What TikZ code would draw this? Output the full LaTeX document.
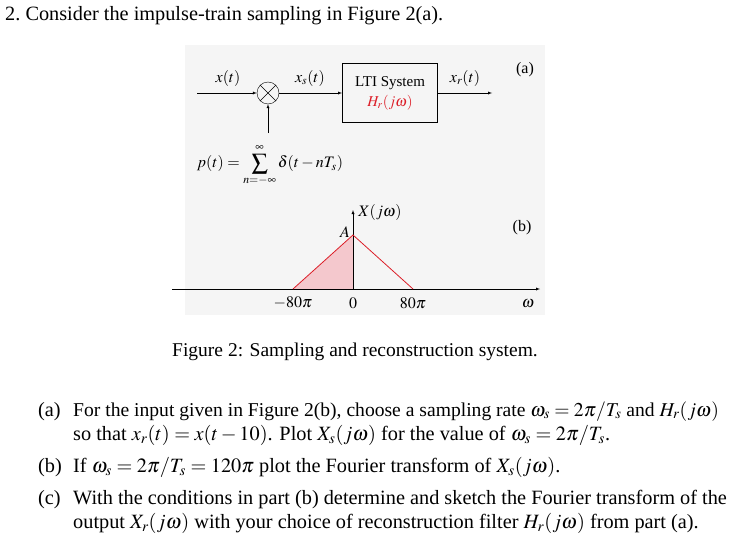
\documentclass[tikz,border=0pt]{standalone}
\usepackage{amsmath}
\usepackage{mathptmx}
\usepackage{fontspec}
\setmainfont{Liberation Serif}
\usetikzlibrary{positioning}
\definecolor{sigred}{RGB}{220,30,40}
\definecolor{pinkfill}{RGB}{244,200,205}
\tikzset{
  txt/.style={anchor=base west,inner sep=0pt,font=\fontsize{20.3}{23}\selectfont},
  lbl/.style={inner sep=0pt,font=\fontsize{16}{18}\selectfont},
  sig/.style={-latex,thin},
  sysbox/.style={draw,thick,minimum width=95pt,minimum height=59pt,align=center,font=\fontsize{15}{18}\selectfont}
}
\begin{document}
\begin{tikzpicture}[x=1pt,y=-1pt]
  \useasboundingbox (0,0) rectangle (736,535);
  \node[txt] (q) at (5,21) {2.\ Consider the impulse-train sampling in Figure 2(a).};
  % figure area
  \fill[black!4] (185,45) rectangle (545,315);
  \coordinate (in) at (197,93);
  \node[draw,circle,minimum size=22pt,inner sep=0pt] (mul) at (268,93) {};
  \draw (mul.north west) -- (mul.south east) (mul.north east) -- (mul.south west);
  \node[sysbox] (lti) at (390,93) {LTI System\\[2pt]\textcolor{sigred}{$H_r(j\omega)$}};
  \coordinate (out) at (492,93);
  \coordinate (pin) at (268,133);
  \draw[sig] (in) -- (mul);
  \draw[sig] (mul) -- (lti);
  \draw[sig] (lti) -- (out);
  \draw[sig] (pin) -- (mul);
  \node[lbl] (xt) at (228,78) {$x(t)$};
  \node[lbl] (xs) at (310,78) {$x_s(t)$};
  \node[lbl] (xr) at (465,78) {$x_r(t)$};
  \node[lbl] (la) at (525,70) {(a)};
  \node[lbl] (pt) at (270,165) {$p(t)=\displaystyle\sum_{n=-\infty}^{\infty}\delta(t-nT_s)$};
  % spectrum
  \coordinate (o) at (353,289);
  \coordinate (peak) at (353,235);
  \coordinate (lft) at (293,289);
  \coordinate (rgt) at (413,289);
  \fill[pinkfill] (lft) -- (peak) -- (o) -- cycle;
  \draw[sig] (172,289) -- (540,289);
  \draw[sig] (o) -- (353,210);
  \draw[sigred,thick] (lft) -- (peak) -- (rgt);
  \node[lbl] (xj) at (380,212) {$X(j\omega)$};
  \node[lbl] (lb) at (522,228) {(b)};
  \node[lbl] (amp) at (345,232) {$A$};
  \node[lbl] (t1) at (293,303) {$-80\pi$};
  \node[lbl] (t0) at (353,303) {$0$};
  \node[lbl] (t2) at (413,303) {$80\pi$};
  \node[lbl] (w) at (528,304) {$\omega$};
  \node[txt,anchor=base,font=\fontsize{19.5}{22}\selectfont] (cap) at (355,356) {Figure 2: Sampling and reconstruction system.};
  % questions
  \node[txt] (ia) at (38,416) {(a)};
  \node[txt,font=\fontsize{19.6}{22}\selectfont] (ia1) at (73,416) {For the input given in Figure 2(b), choose a sampling rate $\omega_s=2\pi/T_s$ and $H_r(j\omega)$};
  \node[txt] (ia2) at (73,440) {so that $x_r(t)=x(t-10)$. Plot $X_s(j\omega)$ for the value of $\omega_s=2\pi/T_s$.};
  \node[txt] (ib) at (38,472) {(b)};
  \node[txt] (ib1) at (73,472) {If $\omega_s=2\pi/T_s=120\pi$ plot the Fourier transform of $X_s(j\omega)$.};
  \node[txt] (ic) at (38,504) {(c)};
  \node[txt] (ic1) at (73,504) {With the conditions in part (b) determine and sketch the Fourier transform of the};
  \node[txt] (ic2) at (73,528) {output $X_r(j\omega)$ with your choice of reconstruction filter $H_r(j\omega)$ from part (a).};
\end{tikzpicture}
\end{document}
